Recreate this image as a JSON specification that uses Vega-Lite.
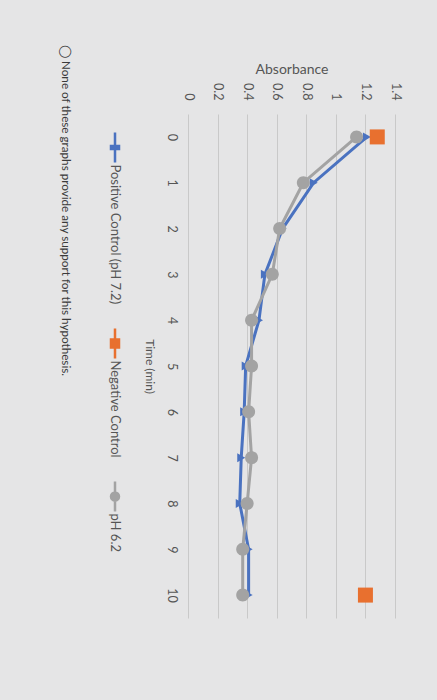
{
  "$schema": "https://vega.github.io/schema/vega-lite/v6.json",
  "width": 207,
  "height": 504,
  "autosize": {"type": "none"},
  "padding": {"left": 188, "top": 114, "right": 42, "bottom": 82},
  "background": "#e5e5e6",
  "config": {
    "view": {"stroke": null},
    "font": "Lato",
    "axis": {"labelFont": "Lato", "titleFont": "Lato", "labelColor": "#555555", "titleColor": "#555555", "titleFontWeight": "normal"}
  },
  "title": {
    "text": "◯ None of these graphs provide any support for this hypothesis.",
    "orient": "left",
    "frame": "group",
    "anchor": "end",
    "align": "left",
    "angle": 90,
    "baseline": "middle",
    "offset": 29,
    "dx": -69,
    "font": "Lato",
    "fontSize": 11.7,
    "fontWeight": "normal",
    "color": "#3a3a3a"
  },
  "data": {
    "values": [
      {"series": "Positive Control (pH 7.2)", "time": 0, "absorbance": 1.21},
      {"series": "Positive Control (pH 7.2)", "time": 1, "absorbance": 0.85},
      {"series": "Positive Control (pH 7.2)", "time": 2, "absorbance": 0.64},
      {"series": "Positive Control (pH 7.2)", "time": 3, "absorbance": 0.52},
      {"series": "Positive Control (pH 7.2)", "time": 4, "absorbance": 0.48},
      {"series": "Positive Control (pH 7.2)", "time": 5, "absorbance": 0.39},
      {"series": "Positive Control (pH 7.2)", "time": 6, "absorbance": 0.38},
      {"series": "Positive Control (pH 7.2)", "time": 7, "absorbance": 0.36},
      {"series": "Positive Control (pH 7.2)", "time": 8, "absorbance": 0.35},
      {"series": "Positive Control (pH 7.2)", "time": 9, "absorbance": 0.41},
      {"series": "Positive Control (pH 7.2)", "time": 10, "absorbance": 0.41},
      {"series": "Negative Control", "time": 0, "absorbance": 1.28},
      {"series": "Negative Control", "time": 10, "absorbance": 1.2},
      {"series": "pH 6.2", "time": 0, "absorbance": 1.14},
      {"series": "pH 6.2", "time": 1, "absorbance": 0.78},
      {"series": "pH 6.2", "time": 2, "absorbance": 0.62},
      {"series": "pH 6.2", "time": 3, "absorbance": 0.57},
      {"series": "pH 6.2", "time": 4, "absorbance": 0.43},
      {"series": "pH 6.2", "time": 5, "absorbance": 0.43},
      {"series": "pH 6.2", "time": 6, "absorbance": 0.41},
      {"series": "pH 6.2", "time": 7, "absorbance": 0.43},
      {"series": "pH 6.2", "time": 8, "absorbance": 0.4},
      {"series": "pH 6.2", "time": 9, "absorbance": 0.37},
      {"series": "pH 6.2", "time": 10, "absorbance": 0.37}
    ]
  },
  "encoding": {
    "x": {
      "field": "absorbance",
      "type": "quantitative",
      "scale": {"domain": [0, 1.4], "nice": false},
      "axis": {
        "orient": "top",
        "title": "Absorbance",
        "titleFontSize": 14,
        "titlePadding": 6,
        "values": [0, 0.2, 0.4, 0.6, 0.8, 1, 1.2, 1.4],
        "labelExpr": "format(datum.value, '~g')",
        "labelAngle": 90,
        "labelAlign": "right",
        "labelBaseline": "middle",
        "labelFontSize": 12.5,
        "labelPadding": 14,
        "ticks": false,
        "domain": false,
        "grid": true,
        "gridColor": "#c9c9c9",
        "gridWidth": 1
      }
    },
    "y": {
      "field": "time",
      "type": "ordinal",
      "scale": {"type": "point", "padding": 0.5},
      "axis": {
        "title": "Time (min)",
        "titleAngle": 90,
        "titleBaseline": "top",
        "titleFontSize": 12,
        "titlePadding": 10,
        "labelAngle": 90,
        "labelAlign": "center",
        "labelBaseline": "top",
        "labelFontSize": 12.5,
        "labelPadding": 11,
        "ticks": false,
        "domain": false,
        "grid": false
      }
    },
    "color": {
      "field": "series",
      "type": "nominal",
      "scale": {
        "domain": ["Positive Control (pH 7.2)", "Negative Control", "pH 6.2"],
        "range": ["#4a72c0", "#e8702f", "#a3a3a3"]
      },
      "legend": {
        "title": null,
        "orient": "none",
        "legendX": -81,
        "legendY": 27,
        "direction": "vertical",
        "padding": 0,
        "rowPadding": 18,
        "labelFont": "Lato",
        "labelFontSize": 13,
        "labelColor": "#555555",
        "labelLimit": 300,
        "symbolSize": 100,
        "encode": {
          "symbols": {
            "update": {
              "x": {"value": 8},
              "shape": {"signal": "datum.value === 'pH 6.2' ? 'M0,-3L0,3M0.8,0A0.8,0.8 0 1,1 -0.8,0A0.8,0.8 0 1,1 0.8,0Z' : datum.value === 'Negative Control' ? 'M0,-3L0,3M-0.8,-0.8L0.8,-0.8L0.8,0.8L-0.8,0.8Z' : 'M0,-3L0,3M-0.8,-0.3L0.8,-0.3L0.8,0.3L-0.8,0.3Z'"},
              "fill": {"signal": "scale('color', datum.value)"},
              "stroke": {"signal": "scale('color', datum.value)"},
              "strokeWidth": {"value": 2.5},
              "strokeDash": {"value": []},
              "opacity": {"value": 1},
              "size": {"value": 100}
            }
          },
          "labels": {
            "update": {
              "x": {"value": 8},
              "dx": {"value": 17},
              "angle": {"value": 90},
              "align": {"value": "left"},
              "baseline": {"value": "middle"}
            }
          }
        }
      }
    }
  },
  "layer": [
    {
      "transform": [{"filter": "datum.series === 'Positive Control (pH 7.2)'"}],
      "mark": {"type": "line", "strokeWidth": 3},
      "encoding": {"order": {"field": "time", "type": "quantitative"}}
    },
    {
      "transform": [{"filter": "datum.series === 'Positive Control (pH 7.2)'"}],
      "mark": {"type": "point", "filled": true, "opacity": 1, "size": 100, "shape": "M-0.8,-0.9L0.8,0L-0.8,0.9Z", "color": "#3c62b0"}
    },
    {
      "transform": [{"filter": "datum.series === 'Negative Control'"}],
      "mark": {"type": "point", "filled": true, "opacity": 1, "size": 100, "shape": "M-1.5,-1.5L1.5,-1.5L1.5,1.5L-1.5,1.5Z"}
    },
    {
      "transform": [{"filter": "datum.series === 'pH 6.2'"}],
      "mark": {"type": "line", "strokeWidth": 3},
      "encoding": {"order": {"field": "time", "type": "quantitative"}}
    },
    {
      "transform": [{"filter": "datum.series === 'pH 6.2'"}],
      "mark": {"type": "point", "filled": true, "opacity": 1, "size": 100, "shape": "M1.3,0A1.3,1.3 0 1,1 -1.3,0A1.3,1.3 0 1,1 1.3,0Z"}
    }
  ]
}
